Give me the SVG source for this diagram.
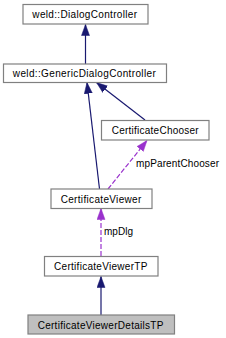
<svg xmlns="http://www.w3.org/2000/svg" width="226" height="338" viewBox="0 0 226 338">
<style>
.box{fill:#ffffff;stroke:#808080;stroke-width:1.2}
.cur{fill:#bfbfbf;stroke:#808080;stroke-width:1.2}
text{font-family:"Liberation Sans",Arial,sans-serif;font-size:10px;fill:#000}
.lbl{text-anchor:middle}
.inh{stroke:#191970;stroke-width:1.2;fill:none}
.use{stroke:#9a32cd;stroke-width:1.2;fill:none;stroke-dasharray:5,2}
</style>
<defs>
<marker id="ah" markerUnits="userSpaceOnUse" markerWidth="12" markerHeight="9" refX="11" refY="4.5" orient="auto">
<path d="M0,0.5 L11,4.5 L0,8.5 z" fill="#191970" stroke="#191970" stroke-width="0.5"/>
</marker>
<marker id="ap" markerUnits="userSpaceOnUse" markerWidth="12" markerHeight="9" refX="11" refY="4.5" orient="auto">
<path d="M0,0.5 L11,4.5 L0,8.5 z" fill="#9a32cd" stroke="#9a32cd" stroke-width="0.5"/>
</marker>
</defs>
<g id="edges">
<line class="inh" x1="85.5" y1="64" x2="85.5" y2="24.5" marker-end="url(#ah)"/>
<line class="inh" x1="99.5" y1="189" x2="87" y2="82.5" marker-end="url(#ah)"/>
<line class="inh" x1="145" y1="120" x2="96.5" y2="82.5" marker-end="url(#ah)"/>
<line class="use" x1="108" y1="189" x2="147" y2="140.5" marker-end="url(#ap)"/>
<line class="use" x1="101" y1="256" x2="101" y2="208.5" marker-end="url(#ap)"/>
<line class="inh" x1="101" y1="315" x2="101" y2="276.5" marker-end="url(#ah)"/>
<text x="136" y="166.5" textLength="83" lengthAdjust="spacing">mpParentChooser</text>
<text x="104" y="234.5" textLength="29" lengthAdjust="spacing">mpDlg</text>
</g>
<g id="node-DialogController">
<rect class="box" x="23" y="4.5" width="125" height="19.5"/>
<text class="lbl" x="84.7" y="18" textLength="104.7" lengthAdjust="spacing">weld::DialogController</text>
</g>
<g id="node-GenericDialogController">
<rect class="box" x="3.5" y="64" width="163" height="18.5"/>
<text class="lbl" x="84.3" y="77" textLength="143" lengthAdjust="spacing">weld::GenericDialogController</text>
</g>
<g id="node-CertificateChooser">
<rect class="box" x="101.5" y="120.5" width="107.5" height="19.5"/>
<text class="lbl" x="155.2" y="134" textLength="87" lengthAdjust="spacing">CertificateChooser</text>
</g>
<g id="node-CertificateViewer">
<rect class="box" x="51" y="189" width="101" height="19.5"/>
<text class="lbl" x="101" y="202.5" textLength="80.7" lengthAdjust="spacing">CertificateViewer</text>
</g>
<g id="node-CertificateViewerTP">
<rect class="box" x="44.5" y="256.5" width="113.5" height="19.5"/>
<text class="lbl" x="100.7" y="270" textLength="93.3" lengthAdjust="spacing">CertificateViewerTP</text>
</g>
<g id="node-CertificateViewerDetailsTP">
<rect class="cur" x="28" y="315" width="146.5" height="19"/>
<text class="lbl" x="100.5" y="328.5" textLength="125.7" lengthAdjust="spacing">CertificateViewerDetailsTP</text>
</g>
</svg>
